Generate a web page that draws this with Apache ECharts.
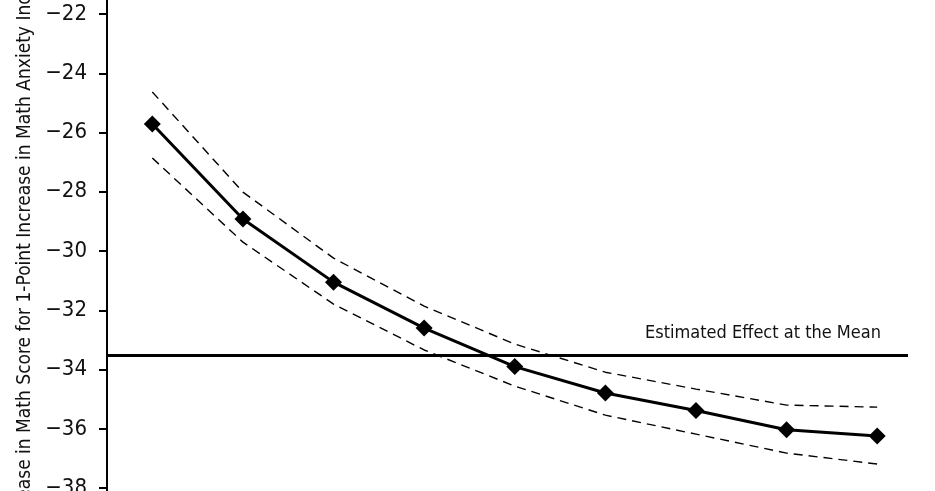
<!DOCTYPE html>
<html>
<head>
<meta charset="utf-8">
<script src="https://cdn.jsdelivr.net/npm/echarts@6/dist/echarts.min.js"></script>
<style>html,body{margin:0;padding:0;background:#fff}#c{width:935px;height:491px}</style>
</head>
<body>
<div id="c"></div>
<script>
// Data
var xPositions = [1, 2, 3, 4, 5, 6, 7, 8, 9];
var estimate = [-25.71, -28.92, -31.05, -32.60, -33.90, -34.79, -35.38, -36.03, -36.24];
var upperBound = [-24.63, -28.01, -30.24, -31.86, -33.14, -34.09, -34.66, -35.20, -35.27];
var lowerBound = [-26.86, -29.70, -31.79, -33.34, -34.56, -35.54, -36.18, -36.82, -37.19];
var meanEffect = [-33.51];
var yTicks = [-38, -36, -34, -32, -30, -28, -26, -24, -22];
var meanLabel = 'Estimated Effect at the Mean';
var yAxisTitle = 'Decrease in Math Score for 1-Point Increase in Math Anxiety Index';

var FONT = "'DejaVu Sans Condensed', 'Liberation Sans Narrow', 'Arial Narrow', 'Liberation Sans', sans-serif";
function pairs(vals) { return xPositions.map(function (x, i) { return [x, vals[i]]; }); }

var chart = echarts.init(document.getElementById('c'), null, { renderer: 'canvas' });
chart.setOption({
  animation: false,
  backgroundColor: '#ffffff',
  grid: { left: 107, right: 27, top: 0, bottom: 0, containLabel: false, outerBoundsMode: 'none' },
  xAxis: { type: 'value', min: 0.5, max: 9.34, show: false },
  yAxis: {
    type: 'value', min: -38.10, max: -21.527,
    name: yAxisTitle, nameLocation: 'middle', nameGap: 68,
    nameTextStyle: { fontFamily: FONT, fontSize: 19, color: '#111', padding: [0, 22, 0, 0] },
    axisLine: { show: true, lineStyle: { color: '#000', width: 2 } },
    axisTick: { show: true, length: 8, customValues: yTicks, lineStyle: { color: '#000', width: 2 } },
    axisLabel: { margin: 20, fontFamily: FONT, fontSize: 22, color: '#111', customValues: yTicks,
      formatter: function (v) { return String(v).replace('-', '\u2212'); } },
    splitLine: { show: false }
  },
  series: [
    { type: 'line', data: pairs(upperBound), symbol: 'none',
      lineStyle: { color: '#000', width: 1.4, type: [9, 6] } },
    { type: 'line', data: pairs(lowerBound), symbol: 'none',
      lineStyle: { color: '#000', width: 1.4, type: [9, 6] } },
    { type: 'line', data: pairs(estimate), symbol: 'diamond', symbolSize: 17,
      itemStyle: { color: '#000' }, lineStyle: { color: '#000', width: 3 },
      markLine: {
        silent: true, symbol: 'none',
        lineStyle: { color: '#000', width: 3, type: 'solid' },
        label: { show: true, position: 'insideEndTop', formatter: meanLabel,
          fontFamily: FONT, fontSize: 18, color: '#111', padding: [0, 22, 8, 0] },
        data: [{ yAxis: meanEffect[0] }]
      } }
  ]
});
</script>
</body>
</html>
